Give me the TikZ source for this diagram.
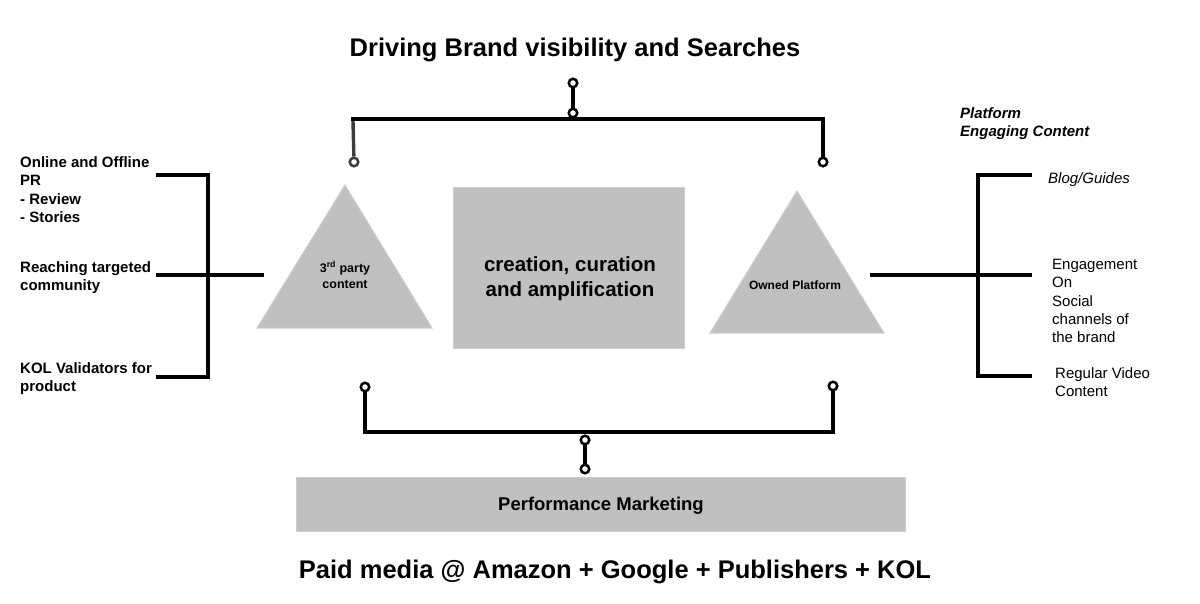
\documentclass[tikz,border=0pt]{standalone}
\usepackage{fontspec}
\setmainfont{Liberation Sans}
\usetikzlibrary{shapes.geometric}
\definecolor{boxgray}{RGB}{192,192,192}
\definecolor{edgegray}{RGB}{205,205,205}
\definecolor{darkline}{RGB}{60,60,60}
\tikzset{
  conn/.style={line width=3.4pt, line cap=rect},
  pinc/.style={circle, draw, line width=2.5pt, fill=white, inner sep=0pt, minimum size=8.5pt},
  lbl/.style={font=\bfseries\fontsize{15}{18.5}\selectfont, anchor=north west, align=left, inner sep=0pt},
  rlbl/.style={font=\fontsize{15}{18.3}\selectfont, anchor=north west, align=left, inner sep=0pt},
  graybox/.style={fill=boxgray, draw=edgegray, line width=1pt},
  tri/.style={fill=boxgray, draw=edgegray, line width=1pt},
}
\begin{document}
\begin{tikzpicture}[x=1pt,y=-1pt]
\useasboundingbox (0,0) rectangle (1200,603);
% titles
\node[font=\bfseries\fontsize{25.5}{30}\selectfont] (title) at (575,50) {Driving Brand visibility and Searches};
\node[font=\bfseries\fontsize{25.5}{30}\selectfont] (paid) at (615,572) {Paid media @ Amazon + Google + Publishers + KOL};

% center box
\node[graybox, minimum width=231pt, minimum height=161pt, inner sep=0pt] (core) at (568.5,267.5) {};
\node[font=\bfseries\fontsize{20.5}{25.5}\selectfont, align=center] (coretext) at (570,278.5) {creation, curation\\and amplification};

% triangles
\path[tri] (345,185) -- (432,328) -- (257,328) -- cycle;
\node[font=\bfseries\fontsize{12.5}{16}\selectfont, align=center] (third) at (345,275) {3\textsuperscript{rd} party\\content};
\path[tri] (797,191) -- (884,333) -- (710,333) -- cycle;
\node[font=\bfseries\fontsize{12}{15}\selectfont] (owned) at (795,285) {Owned Platform};

% performance box
\node[graybox, minimum width=609pt, minimum height=54pt, inner sep=0pt] (perf) at (600.5,504) {};
\node[font=\bfseries\fontsize{18.5}{22}\selectfont] (perftext) at (601,506) {Performance Marketing};

% top connector
\node[pinc] (t1) at (573,83) {};
\node[pinc] (t2) at (573,113) {};
\node[pinc, draw=darkline] (tl) at (354,162) {};
\node[pinc] (tr) at (823,162) {};
\coordinate (tlc) at (353,119);
\coordinate (tlg) at (353,121);
\coordinate (trc) at (823,119);
\draw[conn] (t1) -- (t2);
\draw[conn, darkline, line cap=butt] (tl) -- (tlg);
\draw[conn] (tlc) -- (trc);
\draw[conn] (tr) -- (trc);

% bottom connector
\node[pinc] (bl) at (365,387) {};
\node[pinc] (br) at (833,386) {};
\node[pinc] (b1) at (585,440) {};
\node[pinc] (b2) at (585,469) {};
\coordinate (blc) at (365,432);
\coordinate (brc) at (833,432);
\draw[conn] (bl) -- (blc) -- (brc) -- (br);
\draw[conn] (b1) -- (b2);

% left bracket
\coordinate (la) at (158,175);
\coordinate (lb) at (158,275);
\coordinate (lc) at (158,377);
\coordinate (lva) at (208,175);
\coordinate (lvb) at (208,275);
\coordinate (lvc) at (208,377);
\coordinate (lend) at (262,275);
\draw[conn] (la) -- (lva) -- (lvc) -- (lc);
\draw[conn] (lb) -- (lend);
\node[lbl] (l1) at (20,156) {Online and Offline\\PR\\- Review\\- Stories};
\node[lbl] (l2) at (20,261) {Reaching targeted\\community};
\node[lbl] (l3) at (20,362) {KOL Validators for\\product};

% right bracket
\coordinate (rs) at (872,275);
\coordinate (rva) at (978,175);
\coordinate (rvb) at (978,275);
\coordinate (rvc) at (978,376);
\coordinate (ra) at (1030,175);
\coordinate (rb) at (1030,275);
\coordinate (rc) at (1030,376);
\draw[conn] (ra) -- (rva) -- (rvc) -- (rc);
\draw[conn] (rs) -- (rb);
\node[font=\bfseries\itshape\fontsize{15}{18}\selectfont, anchor=north west, align=left, inner sep=0pt] (rh) at (960,107) {Platform\\Engaging Content};
\node[rlbl, font=\itshape\fontsize{15}{18.3}\selectfont] (r1) at (1048,172) {Blog/Guides};
\node[rlbl] (r2) at (1052,259) {Engagement\\On\\Social\\channels of\\the brand};
\node[rlbl] (r3) at (1055,367) {Regular Video\\Content};
\end{tikzpicture}
\end{document}
